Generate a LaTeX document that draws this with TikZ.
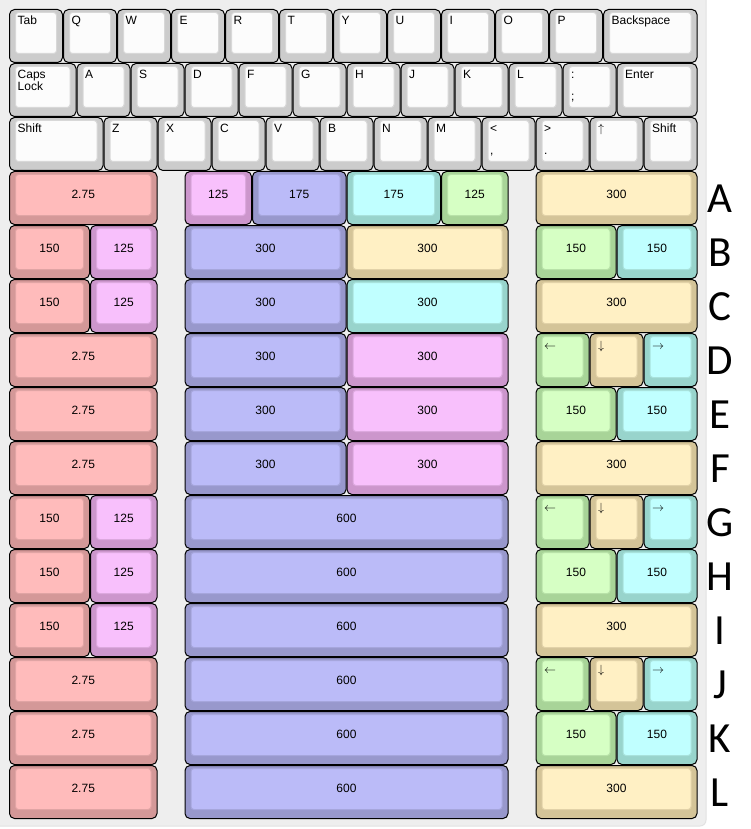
\documentclass[tikz,border=0pt]{standalone}
\usepackage{fontspec}
\setmainfont{Liberation Sans}
\newfontfamily\rowfont{Carlito}
\definecolor{kbbg}{HTML}{EEEEEE}
\definecolor{kbbgedge}{HTML}{E2E2E2}
\definecolor{grayside}{HTML}{CCCCCC}\definecolor{graytop}{HTML}{FCFCFC}\definecolor{grayedge}{HTML}{D8D8D8}
\definecolor{pinkside}{HTML}{D49898}\definecolor{pinktop}{HTML}{FFBBBB}\definecolor{pinkedge}{HTML}{E0A4A4}
\definecolor{magside}{HTML}{CC96CC}\definecolor{magtop}{HTML}{F8C0FC}\definecolor{magedge}{HTML}{DCA8DE}
\definecolor{blueside}{HTML}{9898CC}\definecolor{bluetop}{HTML}{BBBBF8}\definecolor{blueedge}{HTML}{A6A6DC}
\definecolor{cyanside}{HTML}{98D4CC}\definecolor{cyantop}{HTML}{C0FFFF}\definecolor{cyanedge}{HTML}{A8E2DC}
\definecolor{greenside}{HTML}{A8D498}\definecolor{greentop}{HTML}{D6FFC4}\definecolor{greenedge}{HTML}{B8E2A8}
\definecolor{yelside}{HTML}{D4C498}\definecolor{yeltop}{HTML}{FFF0C4}\definecolor{yeledge}{HTML}{E2D2A8}
\newcommand{\kcap}[4]{%
  \draw[line width=1pt, rounded corners=5pt, fill=#4side] (#1+0.5,#2+0.5) rectangle (#1+#3-0.5,#2+53.5);
  \draw[line width=1pt, rounded corners=3pt, draw=#4edge, fill=#4top] (#1+6.5,#2+3.5) rectangle (#1+#3-6.5,#2+44.5);}
\newcommand{\ckey}[6]{\kcap{#1}{#2}{#3}{#4}\node[clab] (#6) at (#1+#3/2,#2+23.5) {#5};}
\newcommand{\tkey}[6]{\kcap{#1}{#2}{#3}{#4}\node[tlab] (#6) at (#1+8.5,#2+16) {#5};}
\newcommand{\akey}[6]{\kcap{#1}{#2}{#3}{#4}\node[alab] (#6) at (#1+8.5,#2+16) {$#5$};}
\begin{document}
\begin{tikzpicture}[x=1pt,y=-1pt,
  tlab/.style={anchor=base west, inner sep=0pt, font=\fontsize{12}{12}\selectfont},
  alab/.style={anchor=base west, inner sep=0pt, font=\fontsize{12}{12}\selectfont},
  clab/.style={anchor=center, inner sep=0pt, font=\fontsize{12}{12}\selectfont},
  rowlab/.style={anchor=base, inner sep=0pt, font=\rowfont\fontsize{43}{43}\selectfont}]
\useasboundingbox (0,0) rectangle (750,829);
\fill[white] (0,0) rectangle (750,829);
\draw[fill=kbbg, draw=kbbgedge, line width=1pt, rounded corners=6pt] (-10,-10) rectangle (706,826);
% row 1
\foreach \l [count=\i from 0] in {Tab,Q,W,E,R,T,Y,U,I,O,P} {
  \tkey{9+54*\i}{9}{54}{gray}{\l}{r1k\i}
}
\tkey{603}{9}{94.5}{gray}{Backspace}{bksp}
% row 2
\kcap{9}{63}{67.5}{gray}
\node[tlab] (caps) at (17.5,79) {Caps};
\node[tlab] (lock) at (17.5,91) {Lock};
\foreach \l [count=\i from 0] in {A,S,D,F,G,H,J,K,L} {
  \tkey{76.5+54*\i}{63}{54}{gray}{\l}{r2k\i}
}
\tkey{562.5}{63}{54}{gray}{:}{colon}
\node[tlab] (semi) at (571,101) {;};
\tkey{616.5}{63}{81}{gray}{Enter}{enter}
% row 3
\tkey{9}{117}{94.5}{gray}{Shift}{lshift}
\foreach \l [count=\i from 0] in {Z,X,C,V,B,N,M} {
  \tkey{103.5+54*\i}{117}{54}{gray}{\l}{r3k\i}
}
\tkey{481.5}{117}{54}{gray}{<}{lt}
\node[tlab] (comma) at (490,155) {,};
\tkey{535.5}{117}{54}{gray}{>}{gt}
\node[tlab] (period) at (544,155) {.};
\akey{589.5}{117}{54}{gray}{\uparrow}{up}
\tkey{643.5}{117}{54}{gray}{Shift}{rshift}
% left column
\foreach \r in {0,3,4,5,9,10,11} {
  \ckey{9}{171+54*\r}{148.5}{pink}{2.75}{lw\r}
}
\foreach \r in {1,2,6,7,8} {
  \ckey{9}{171+54*\r}{81}{pink}{150}{la\r}
  \ckey{90}{171+54*\r}{67.5}{mag}{125}{lb\r}
}
% middle column
\ckey{184.5}{171}{67.5}{mag}{125}{ma0}
\ckey{252}{171}{94.5}{blue}{175}{mb0}
\ckey{346.5}{171}{94.5}{cyan}{175}{mc0}
\ckey{441}{171}{67.5}{green}{125}{md0}
\ckey{184.5}{225}{162}{blue}{300}{ma1}
\ckey{346.5}{225}{162}{yel}{300}{mb1}
\ckey{184.5}{279}{162}{blue}{300}{ma2}
\ckey{346.5}{279}{162}{cyan}{300}{mb2}
\foreach \r in {3,4,5} {
  \ckey{184.5}{171+54*\r}{162}{blue}{300}{ma\r}
  \ckey{346.5}{171+54*\r}{162}{mag}{300}{mb\r}
}
\foreach \r in {6,...,11} {
  \ckey{184.5}{171+54*\r}{324}{blue}{600}{mw\r}
}
% right column
\foreach \r in {0,2,5,8,11} {
  \ckey{535.5}{171+54*\r}{162}{yel}{300}{rw\r}
}
\foreach \r in {1,4,7,10} {
  \ckey{535.5}{171+54*\r}{81}{green}{150}{ra\r}
  \ckey{616.5}{171+54*\r}{81}{cyan}{150}{rb\r}
}
\foreach \r in {3,6,9} {
  \akey{535.5}{171+54*\r}{54}{green}{\leftarrow}{left\r}
  \akey{589.5}{171+54*\r}{54}{yel}{\downarrow}{down\r}
  \akey{643.5}{171+54*\r}{54}{cyan}{\rightarrow}{right\r}
}
% row letters
\foreach \l [count=\i from 0] in {A,B,C,D,E,F,G,H,I,J,K,L} {
  \node[rowlab] (row\l) at (720,198+54*\i+14.5) {\l};
}
\end{tikzpicture}
\end{document}
